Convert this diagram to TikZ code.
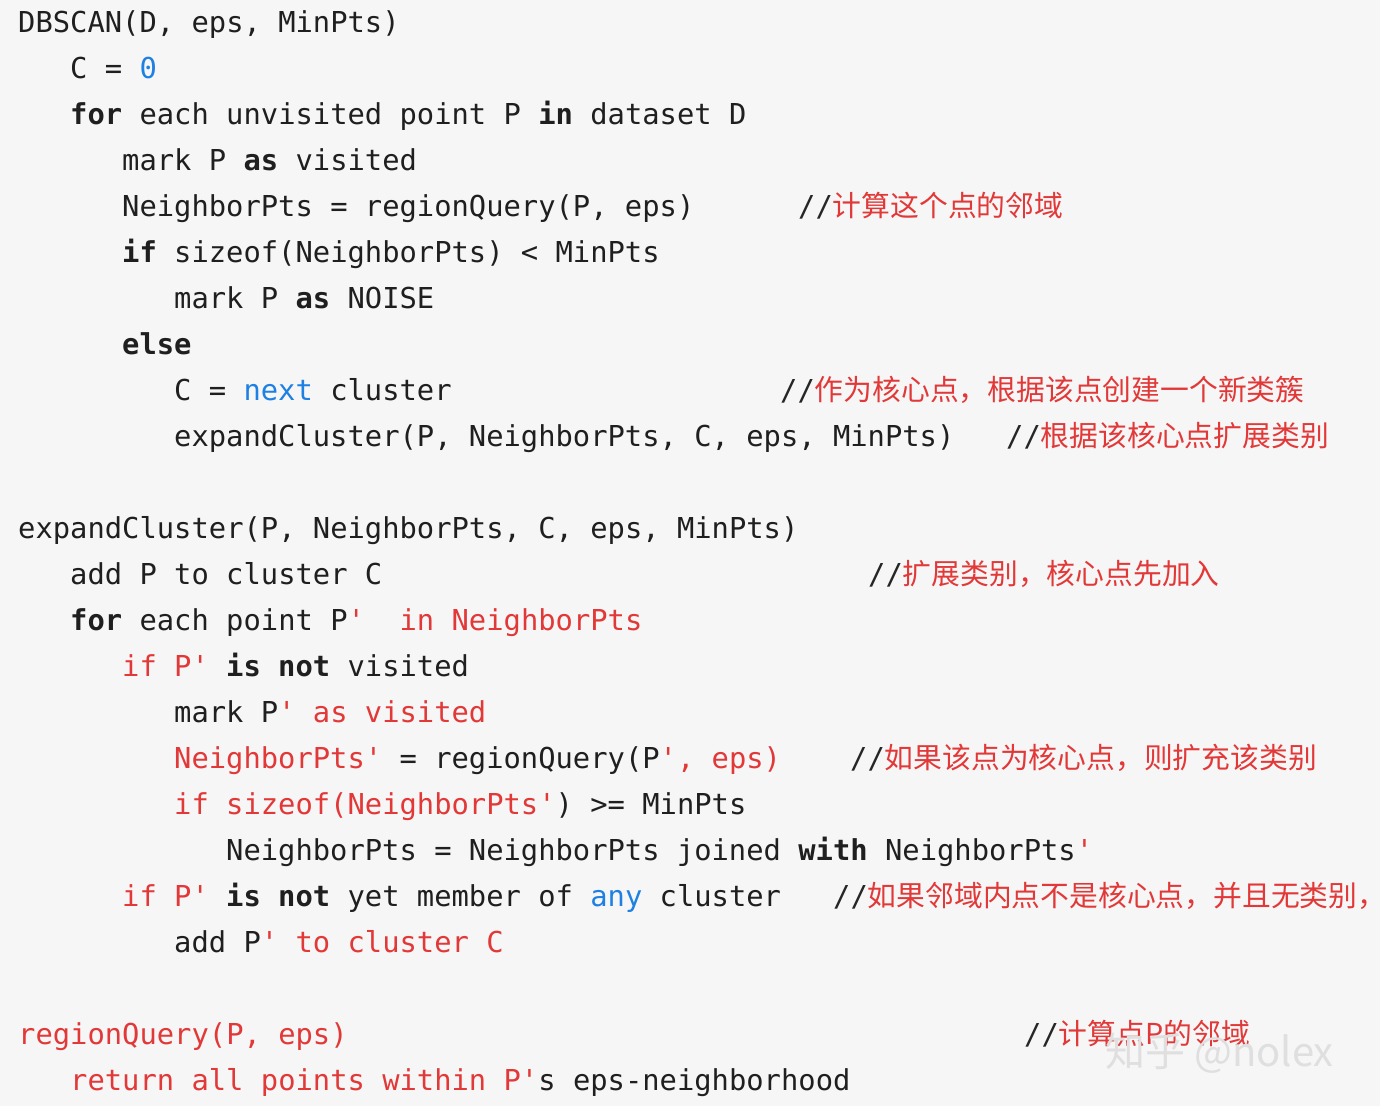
\documentclass[tikz,border=0pt]{standalone}
\usepackage{fontspec}
\setmonofont{DejaVu Sans Mono}
\newfontfamily\cjk{Noto Sans CJK SC}
\definecolor{cred}{RGB}{226,56,56}
\definecolor{cblue}{RGB}{30,128,226}
\definecolor{bg}{RGB}{246,246,246}
\newcommand\kw[1]{\textbf{#1}}
\newcommand\rd[1]{\textcolor{cred}{#1}}
\newcommand\bl[1]{\textcolor{cblue}{#1}}
\newcommand\cm[1]{{\color{black!85}//}{\cjk\fontsize{28.8}{30}\selectfont\color{cred}#1}}
\begin{document}
\begin{tikzpicture}[x=1pt,y=-1pt,
  ln/.style={anchor=base west,inner sep=0pt,font=\ttfamily\fontsize{28.8}{34}\selectfont,text=black!88}]
\fill[bg] (0,0) rectangle (1380,1106);
\useasboundingbox (0,0) rectangle (1380,1106);
\node[ln] (l1) at (18,32) {DBSCAN(D, eps, MinPts)};
\node[ln] (l2) at (70,78) {C = \bl{0}};
\node[ln] (l3) at (70,124) {\kw{for} each unvisited point P \kw{in} dataset D};
\node[ln] (l4) at (122,170) {mark P \kw{as} visited};
\node[ln] (l5) at (122,216) {NeighborPts = regionQuery(P, eps)};
\node[ln] (c5) at (798,216) {\cm{计算这个点的邻域}};
\node[ln] (l6) at (122,262) {\kw{if} sizeof(NeighborPts) < MinPts};
\node[ln] (l7) at (174,308) {mark P \kw{as} NOISE};
\node[ln] (l8) at (122,354) {\kw{else}};
\node[ln] (l9) at (174,400) {C = \bl{next} cluster};
\node[ln] (c9) at (780,400) {\cm{作为核心点，根据该点创建一个新类簇}};
\node[ln] (l10) at (174,446) {expandCluster(P, NeighborPts, C, eps, MinPts)};
\node[ln] (c10) at (1006,446) {\cm{根据该核心点扩展类别}};
\node[ln] (l11) at (18,538) {expandCluster(P, NeighborPts, C, eps, MinPts)};
\node[ln] (l12) at (70,584) {add P to cluster C};
\node[ln] (c12) at (868,584) {\cm{扩展类别，核心点先加入}};
\node[ln] (l13) at (70,630) {\kw{for} each point P\rd{'\ \ in NeighborPts}};
\node[ln] (l14) at (122,676) {\rd{if P'} \kw{is} \kw{not} visited};
\node[ln] (l15) at (174,722) {mark P\rd{' as visited}};
\node[ln] (l16) at (174,768) {\rd{NeighborPts'} = regionQuery(P\rd{', eps)}};
\node[ln] (c16) at (850,768) {\cm{如果该点为核心点，则扩充该类别}};
\node[ln] (l17) at (174,814) {\rd{if sizeof(NeighborPts'}) >= MinPts};
\node[ln] (l18) at (226,860) {NeighborPts = NeighborPts joined \kw{with} NeighborPts\rd{'}};
\node[ln] (l19) at (122,906) {\rd{if P'} \kw{is} \kw{not} yet member of \bl{any} cluster};
\node[ln] (c19) at (833,906) {\cm{如果邻域内点不是核心点，并且无类别，}};
\node[ln] (l20) at (174,952) {add P\rd{' to cluster C}};
\node[ln] (l21) at (18,1044) {\rd{regionQuery(P, eps)}};
\node[ln] (c21) at (1024,1044) {\cm{计算点P的邻域}};
\node[ln] (l22) at (70,1090) {\rd{return all points within P'}s eps-neighborhood};
\node[anchor=base west,inner sep=0pt,text=white!75!gray,font=\cjk\fontsize{40}{42}\selectfont] (wm) at (1105,1066) {知乎 @nolex};
\end{tikzpicture}
\end{document}
